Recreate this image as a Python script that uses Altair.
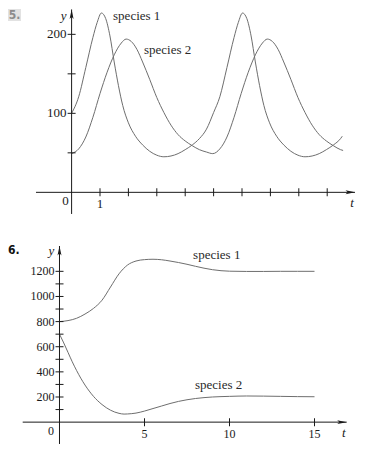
import altair as alt
import pandas as pd

# ---------- Exercise 5 data ----------
p5_s1_t = [0, 0.25, 0.5, 0.75, 0.9, 1.05, 1.2, 1.35, 1.5, 1.65, 1.8, 2.0, 2.25, 2.5, 2.75, 3.0, 3.25, 3.5, 3.75,
           4.0, 4.25, 4.5, 4.75, 5.0, 5.22, 5.47, 5.72, 5.87, 6.02, 6.17, 6.32, 6.47, 6.62, 6.77, 6.97, 7.22, 7.47,
           7.72, 7.97, 8.22, 8.47, 8.72, 8.97, 9.22, 9.47, 9.53]
p5_s1_y = [100, 121, 158, 196, 215, 227, 220, 198, 165, 135, 110, 88, 71, 60, 52, 47, 45, 46, 49,
           54, 60, 68, 80, 101, 121, 158, 196, 215, 227, 220, 198, 165, 135, 110, 88, 71, 60,
           52, 47, 45, 46, 49, 54, 60, 68, 71]
p5_s2_t = [0, 0.25, 0.5, 0.75, 1.0, 1.25, 1.5, 1.75, 1.92, 2.1, 2.3, 2.5, 2.75, 3.0, 3.25, 3.5, 3.75, 4.0, 4.25,
           4.5, 4.75, 4.97, 5.22, 5.47, 5.72, 5.97, 6.22, 6.47, 6.72, 6.89, 7.07, 7.27, 7.47, 7.72, 7.97, 8.22,
           8.47, 8.72, 8.97, 9.22, 9.47, 9.56]
p5_s2_y = [49, 55, 70, 95, 125, 152, 174, 189, 194, 191, 181, 165, 143, 120, 101, 85, 73, 65, 59,
           54, 51, 49, 55, 70, 95, 125, 152, 174, 189, 194, 191, 181, 165, 143, 120, 101,
           85, 73, 65, 59, 54, 53]
p5_xticks = [1, 2, 3, 4, 5, 6, 7, 8, 9]
p5_yticks = [50, 100, 150, 200]
p5_ylabels = ["100", "200"]
p5_ylabel_vals = [100, 200]

# ---------- Exercise 6 data ----------
p6_s1_t = [0, 0.5, 1.0, 1.5, 2.0, 2.5, 3.0, 3.5, 4.0, 4.5, 5.0, 5.5, 6.0, 6.5, 7.0, 7.5, 8.0, 8.5, 9.0, 9.5,
           10, 11, 12, 13, 14, 15]
p6_s1_y = [800, 808, 826, 860, 905, 970, 1075, 1180, 1250, 1282, 1293, 1296, 1292, 1282, 1270, 1256, 1240,
           1225, 1213, 1205, 1201, 1199, 1199, 1200, 1200, 1200]
p6_s2_t = [0, 0.25, 0.5, 0.75, 1.0, 1.25, 1.5, 1.75, 2.0, 2.5, 3.0, 3.5, 3.8, 4.0, 4.5, 5.0, 5.5, 6.0, 6.5,
           7.0, 7.5, 8.0, 8.5, 9.0, 10, 11, 12, 13, 14, 15]
p6_s2_y = [700, 630, 555, 480, 412, 350, 295, 247, 205, 140, 95, 70, 64, 65, 72, 88, 108, 128, 148,
           165, 178, 188, 195, 200, 205, 208, 207, 205, 203, 202]
p6_xticks = [5, 10, 15]
p6_xlabels = ["5", "10", "15"]
p6_yticks = [100, 200, 300, 400, 500, 600, 700, 800, 900, 1000, 1100, 1200]
p6_ylabels = ["200", "400", "600", "800", "1000", "1200"]
p6_ylabel_vals = [200, 400, 600, 800, 1000, 1200]

SERIF = "Liberation Serif"
CURVE = "#6e6e6e"
AXIS = "#1a1a1a"
UP_ARROW = "M0,-1L0.42,1L0,0.55L-0.42,1Z"
RIGHT_ARROW = "M1,0L-1,0.42L-0.55,0L-1,-0.42Z"


def curves(df, xs, ys):
    return alt.Chart(df).mark_line(color=CURVE, strokeWidth=1, interpolate="monotone").encode(
        x=alt.X("t:Q", scale=xs, axis=None),
        y=alt.Y("y:Q", scale=ys, axis=None),
        detail="species:N",
    )


def panel(s1t, s1y, s2t, s2y, xs, ys, xaxis, yaxis, xticks, yticks, xlab, xlabv, ylab, ylabv,
          zero_off, sp_labels, num_size, W, H, tag, ylab_dy):
    df = pd.concat([
        pd.DataFrame({"t": s1t, "y": s1y, "species": "species 1"}),
        pd.DataFrame({"t": s2t, "y": s2y, "species": "species 2"}),
    ])
    X = lambda f: alt.X(f, scale=xs, axis=None)
    Y = lambda f: alt.Y(f, scale=ys, axis=None)
    layers = []
    layers.append(curves(df, xs, ys))
    # axis lines
    layers.append(alt.Chart(pd.DataFrame({"a": [xaxis[0]], "b": [xaxis[1]], "y": [0]})).mark_rule(
        color=AXIS, strokeWidth=1).encode(x=X("a:Q"), x2="b:Q", y=Y("y:Q")))
    layers.append(alt.Chart(pd.DataFrame({"a": [yaxis[0]], "b": [yaxis[1]], "t": [0]})).mark_rule(
        color=AXIS, strokeWidth=1).encode(y=Y("a:Q"), y2="b:Q", x=X("t:Q")))
    # arrow heads
    layers.append(alt.Chart(pd.DataFrame({"t": [xaxis[1]], "y": [0]})).mark_point(
        shape=RIGHT_ARROW, size=90, filled=True, color=AXIS, opacity=1, xOffset=-4.7).encode(
        x=X("t:Q"), y=Y("y:Q")))
    layers.append(alt.Chart(pd.DataFrame({"t": [0], "y": [yaxis[1]]})).mark_point(
        shape=UP_ARROW, size=90, filled=True, color=AXIS, opacity=1, yOffset=4.7).encode(
        x=X("t:Q"), y=Y("y:Q")))
    # ticks
    layers.append(alt.Chart(pd.DataFrame({"t": xticks, "y": [0] * len(xticks)})).mark_tick(
        orient="vertical", size=8, thickness=1, color=AXIS, opacity=1).encode(x=X("t:Q"), y=Y("y:Q")))
    layers.append(alt.Chart(pd.DataFrame({"t": [0] * len(yticks), "y": yticks})).mark_tick(
        orient="horizontal", size=8, thickness=1, color=AXIS, opacity=1).encode(x=X("t:Q"), y=Y("y:Q")))
    # tick labels
    layers.append(alt.Chart(pd.DataFrame({"t": xlabv, "y": [0] * len(xlabv), "lab": xlab})).mark_text(
        font=SERIF, fontSize=num_size, color=AXIS, align="center", baseline="middle", dy=12).encode(
        x=X("t:Q"), y=Y("y:Q"), text="lab:N"))
    layers.append(alt.Chart(pd.DataFrame({"t": [0] * len(ylabv), "y": ylabv, "lab": ylab})).mark_text(
        font=SERIF, fontSize=num_size, color=AXIS, align="right", baseline="middle", dx=-5).encode(
        x=X("t:Q"), y=Y("y:Q"), text="lab:N"))
    layers.append(alt.Chart(pd.DataFrame({"t": [0], "y": [0], "lab": ["0"]})).mark_text(
        font=SERIF, fontSize=num_size, color=AXIS, align="center", baseline="middle",
        dx=zero_off[0], dy=zero_off[1]).encode(x=X("t:Q"), y=Y("y:Q"), text="lab:N"))
    # axis names
    layers.append(alt.Chart(pd.DataFrame({"t": [0], "y": [yaxis[1]], "lab": ["y"]})).mark_text(
        font=SERIF, fontSize=13, fontStyle="italic", color=AXIS, align="center", baseline="top",
        dx=-8, dy=ylab_dy).encode(x=X("t:Q"), y=Y("y:Q"), text="lab:N"))
    layers.append(alt.Chart(pd.DataFrame({"t": [xaxis[1]], "y": [0], "lab": ["t"]})).mark_text(
        font=SERIF, fontSize=13, fontStyle="italic", color=AXIS, align="center", baseline="middle",
        dx=-3, dy=11).encode(x=X("t:Q"), y=Y("y:Q"), text="lab:N"))
    # species labels
    sp = pd.DataFrame({"t": [sp_labels[0][0], sp_labels[1][0]], "y": [sp_labels[0][1], sp_labels[1][1]],
                       "lab": ["species 1", "species 2"]})
    layers.append(alt.Chart(sp).mark_text(font=SERIF, fontSize=13, color="#2a2a2a", align="left",
                                          baseline="middle").encode(x=X("t:Q"), y=Y("y:Q"), text="lab:N"))
    layers.extend(tag)
    return alt.layer(*layers).properties(width=W, height=H)


W = 355
# panel 5: t=0 at local x 63.6, 28.4 px/unit; y=0 at local 183.3, 0.79 px/unit
xs5 = alt.Scale(domain=[-2.2394, 10.2606], nice=False, zero=False)
ys5 = alt.Scale(domain=[-52.75, 232.07], nice=False, zero=False)
tag5 = [
    alt.Chart(pd.DataFrame({"k": [0]})).mark_rect(color="#e2e2e2").encode(
        x=alt.value(0), x2=alt.value(13), y=alt.value(0), y2=alt.value(12)),
    alt.Chart(pd.DataFrame({"lab": ["5."]})).mark_text(
        font="DejaVu Sans Condensed", fontWeight="bold", fontSize=12, color="#8c8c8c",
        align="center", baseline="middle").encode(x=alt.value(6.5), y=alt.value(6), text="lab:N"),
]
top = panel(p5_s1_t, p5_s1_y, p5_s2_t, p5_s2_y, xs5, ys5, (-1.254, 9.979), (-27.4, 231.5),
            p5_xticks, p5_yticks, ["1"], [1], p5_ylabels, p5_ylabel_vals, (-6, 9),
            [(1.46, 223), (2.55, 180)], 13, W, 225, tag5, 1)

# panel 6: t=0 at local x 51.5, 17 px/unit; y=0 at local 188.13, 0.12567 px/unit
xs6 = alt.Scale(domain=[-3.0294, 17.8529], nice=False, zero=False)
ys6 = alt.Scale(domain=[-277.5, 1497.0], nice=False, zero=False)
tag6 = [
    alt.Chart(pd.DataFrame({"lab": ["6."]})).mark_text(
        font="DejaVu Sans Condensed", fontWeight="bold", fontSize=12, color="#111111",
        align="left", baseline="middle").encode(x=alt.value(0), y=alt.value(16), text="lab:N"),
]
bottom = panel(p6_s1_t, p6_s1_y, p6_s2_t, p6_s2_y, xs6, ys6, (-2.165, 16.894), (-174, 1401.5),
               p6_xticks, p6_yticks, p6_xlabels, p6_xticks, p6_ylabels, p6_ylabel_vals, (-8.5, 9),
               [(7.86, 1330), (7.97, 295)], 12, W, 223, tag6, -1)

chart = alt.vconcat(top, bottom, spacing=0, bounds="flush").properties(padding=0).configure_view(stroke=None)
chart.save("out.html", embed_options={"renderer": "svg", "actions": False})
